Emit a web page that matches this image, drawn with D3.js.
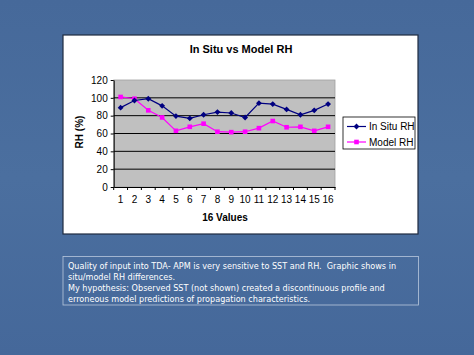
<!DOCTYPE html>
<html><head><meta charset="utf-8">
<script src="https://cdn.jsdelivr.net/npm/d3@7"></script>
<style>
html,body{margin:0;padding:0;background:#4a6d9c;}
svg{display:block;}
</style></head>
<body>
<script>
const categories = ["1","2","3","4","5","6","7","8","9","10","11","12","13","14","15","16"];
const inSitu = [89, 97, 99, 91, 79.5, 77, 81, 84, 83, 78, 94, 93, 87, 81, 86, 93];
const modelRH = [101, 99, 86, 78, 63, 67.5, 71, 62, 61.5, 62, 66, 74, 67, 67.5, 63, 67.5];
const yTicks = [0, 20, 40, 60, 80, 100, 120];
const seriesNames = ["In Situ RH", "Model RH"];
const noteLines = [
  "Quality of input into TDA- APM is very sensitive to SST and RH.  Graphic shows in",
  "situ/model RH differences.",
  "My hypothesis: Observed SST (not shown) created a discontinuous profile and",
  "erroneous model predictions of propagation characteristics."
];

const W = 474, H = 355;
const svg = d3.select("body").append("svg").attr("width", W).attr("height", H);

const defs = svg.append("defs");
const lg = defs.append("linearGradient").attr("id","bg").attr("x1",0).attr("y1",0).attr("x2",0).attr("y2",1);
lg.append("stop").attr("offset","0%").attr("stop-color","#46699a");
lg.append("stop").attr("offset","50%").attr("stop-color","#4b6f9f");
lg.append("stop").attr("offset","100%").attr("stop-color","#45689a");
svg.append("rect").attr("width",W).attr("height",H).attr("fill","url(#bg)");

svg.append("rect").attr("x",63).attr("y",35).attr("width",355).attr("height",199)
  .attr("fill","#ffffff").attr("stroke","#1f2b40").attr("stroke-width",1.2);

const font = "'Liberation Sans', Arial, sans-serif";

svg.append("text").attr("x",241).attr("y",53).attr("text-anchor","middle")
  .attr("font-family",font).attr("font-weight","bold").attr("font-size",11)
  .attr("fill","#000").text("In Situ vs Model RH");

const plot = {x0:113.7, x1:335, y0:80, y1:187};
const x = d3.scaleBand().domain(categories).range([plot.x0, plot.x1]);
const y = d3.scaleLinear().domain([0,120]).range([plot.y1, plot.y0]);

svg.append("rect").attr("x",plot.x0).attr("y",plot.y0).attr("width",plot.x1-plot.x0).attr("height",plot.y1-plot.y0)
  .attr("fill","#c0c0c0").attr("stroke","#a0a0a0").attr("stroke-width",0.8);

svg.append("g").selectAll("line").data(yTicks.filter(d=>d>0 && d<120)).join("line")
  .attr("x1",plot.x0).attr("x2",plot.x1).attr("y1",d=>y(d)).attr("y2",d=>y(d))
  .attr("stroke","#000").attr("stroke-width",1);

const yAxis = svg.append("g").attr("transform",`translate(${plot.x0},0)`)
  .call(d3.axisLeft(y).tickValues(yTicks).tickSize(3).tickSizeOuter(0).tickPadding(3));
yAxis.select(".domain").attr("stroke","#000");
yAxis.selectAll("text").attr("font-family",font).attr("font-size",10).attr("fill","#000");

const xAxis = svg.append("g").attr("transform",`translate(0,${plot.y1})`)
  .call(d3.axisBottom(x).tickSize(0).tickPadding(9));
xAxis.select(".domain").attr("stroke","#000");
xAxis.selectAll("text").attr("font-family",font).attr("font-size",10).attr("fill","#000");
xAxis.selectAll("line.bt").data(d3.range(categories.length+1)).join("line").attr("class","bt")
  .attr("x1",i=>plot.x0 + i*x.step()).attr("x2",i=>plot.x0 + i*x.step())
  .attr("y1",0).attr("y2",3).attr("stroke","#000");

svg.append("text").attr("x",225).attr("y",221).attr("text-anchor","middle")
  .attr("font-family",font).attr("font-weight","bold").attr("font-size",10)
  .attr("fill","#000").text("16 Values");
svg.append("text").attr("transform","translate(83,132) rotate(-90)").attr("text-anchor","middle")
  .attr("font-family",font).attr("font-weight","bold").attr("font-size",10)
  .attr("fill","#000").text("RH (%)");

const cx = d => x(d) + x.bandwidth()/2;
const line = d3.line().x((d,i)=>cx(categories[i])).y(d=>y(d));

svg.append("path").datum(modelRH).attr("d",line).attr("fill","none").attr("stroke","#ff00ff").attr("stroke-width",1.2);
svg.append("g").selectAll("rect").data(modelRH).join("rect")
  .attr("x",(d,i)=>cx(categories[i])-2.3).attr("y",d=>y(d)-2.3).attr("width",4.6).attr("height",4.6)
  .attr("fill","#ff00ff");

svg.append("path").datum(inSitu).attr("d",line).attr("fill","none").attr("stroke","#000080").attr("stroke-width",1.2);
const diamond = d3.symbol().type(d3.symbolDiamond2).size(22);
svg.append("g").selectAll("path").data(inSitu).join("path")
  .attr("transform",(d,i)=>`translate(${cx(categories[i])},${y(d)})`)
  .attr("d",diamond).attr("fill","#000080");

const leg = svg.append("g");
leg.append("rect").attr("x",343).attr("y",117).attr("width",72).attr("height",32)
  .attr("fill","#fff").attr("stroke","#000").attr("stroke-width",0.8);
const legColors = ["#000080","#ff00ff"];
seriesNames.forEach((n,i)=>{
  const ly = 126.5 + i*15.5;
  leg.append("line").attr("x1",347).attr("x2",366).attr("y1",ly).attr("y2",ly).attr("stroke",legColors[i]).attr("stroke-width",1.2);
  if(i===0){
    leg.append("path").attr("transform",`translate(356.5,${ly})`).attr("d",diamond).attr("fill",legColors[i]);
  } else {
    leg.append("rect").attr("x",354.2).attr("y",ly-2.3).attr("width",4.6).attr("height",4.6).attr("fill",legColors[i]);
  }
  leg.append("text").attr("x",369).attr("y",ly+3.5).attr("font-family",font).attr("font-size",10)
    .attr("fill","#000").text(n);
});

svg.append("rect").attr("x",63).attr("y",256.5).attr("width",355.5).attr("height",48.5)
  .attr("fill","none").attr("stroke","#b8c8dc").attr("stroke-width",0.8);
svg.append("g").selectAll("text").data(noteLines).join("text")
  .attr("x",68).attr("y",(d,i)=>268.5 + i*11)
  .attr("xml:space","preserve").style("white-space","pre")
  .attr("font-family","'DejaVu Sans', Tahoma, sans-serif").attr("font-size",8.1)
  .attr("fill","#ffffff").text(d=>d);
</script>
</body></html>
